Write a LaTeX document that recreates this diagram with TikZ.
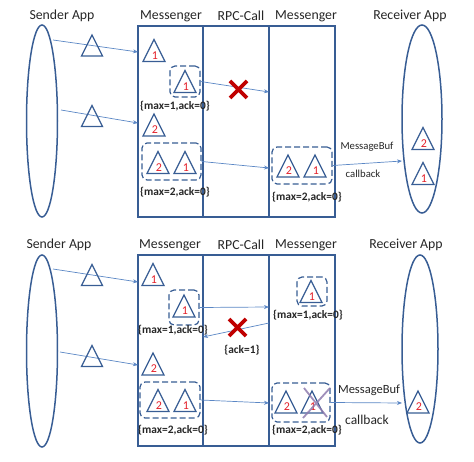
\documentclass[tikz,border=0pt]{standalone}
\usepackage{fontspec}
\setmainfont{Carlito}
\usetikzlibrary{shapes.geometric,arrows.meta}
\definecolor{edge}{HTML}{385D94}
\definecolor{arrc}{HTML}{5B87C5}
\definecolor{numred}{HTML}{E3202A}
\definecolor{xred}{HTML}{C00000}
\definecolor{purp}{HTML}{8E7BAE}
\definecolor{txt}{HTML}{262626}
\tikzset{
  hdr/.style={font=\fontsize{13.8}{15}\selectfont, text=txt, inner sep=0pt},
  lbl/.style={font=\bfseries\fontsize{11.4}{13}\selectfont, text=txt, inner sep=0pt},
  cb/.style={font=\fontsize{#1}{12}\selectfont, text=txt, inner sep=0pt},
  app/.style={draw=edge, line width=1.5pt, ellipse, inner sep=0pt, outer sep=0pt},
  col/.style={draw=edge, line width=1.4pt, rectangle, inner sep=0pt, outer sep=0pt, minimum width=#1, minimum height=191pt},
  dbox/.style={draw=edge, line width=1.2pt, rectangle, rounded corners=5pt, dash pattern=on 6pt off 3pt, inner sep=0pt, minimum width=#1},
  triline/.style={draw=edge, line width=1.3pt, line join=miter},
  num/.style={text=numred, font=\fontsize{12}{13}\selectfont, inner sep=0pt},
  arr/.style={draw=arrc, line width=0.7pt, -{Stealth[length=5pt,width=4pt]}},
  redx/.style={draw=xred, line width=3.8pt},
  purx/.style={draw=purp, line width=1.8pt, opacity=0.85},
  tri/.pic={\draw[triline] (-11,11) -- (11,11) -- (0,-11) -- cycle;
            \node[num] (-n) at (1,5) {#1};},
  etri/.pic={\draw[triline] (-10.5,10.5) -- (10.5,10.5) -- (0,-10.5) -- cycle;}
}
\begin{document}
\begin{tikzpicture}[x=1pt,y=-1pt]
\useasboundingbox (0,0) rectangle (474,462);
% ================= TOP PANEL =================
\node[hdr] (hs1) at (62,16) {Sender App};
\node[hdr] (hm1) at (171,16) {Messenger};
\node[hdr] (hr1) at (241,16) {RPC-Call};
\node[hdr] (hm2) at (306,16) {Messenger};
\node[hdr] (ha1) at (410,16) {Receiver App};

\node[app, minimum width=31pt, minimum height=192pt] (snd1) at (42,121) {};
\node[app, minimum width=40pt, minimum height=188pt] (rcv1) at (422,119) {};
\node[col=65pt] (ma1) at (170.5,121.5) {};
\node[col=66pt] (rpc1) at (236,121.5) {};
\node[col=66pt] (mb1) at (302,121.5) {};

% sender arrows
\coordinate (a1s) at (53,40);  \coordinate (a1e) at (138,52);
\coordinate (a2s) at (61,110); \coordinate (a2e) at (138,123);
\draw[arr] (a1s) -- (a1e);
\draw[arr] (a2s) -- (a2e);
\pic at (92,45.5) {etri};
\pic at (92,116) {etri};

% messenger left content
\pic (t1) at (154,50.5) {tri=1};
\node[dbox=30pt, minimum height=31pt] (da1) at (185,81.5) {};
\pic (t2) at (185,81.5) {tri=1};
\node[lbl] (la1) at (175,106) {\{max=1,ack=0\}};
\pic (t3) at (154,125) {tri=2};
\node[dbox=59pt, minimum height=37pt] (db1) at (171.5,161.5) {};
\pic (t4) at (158,162.5) {tri=2};
\pic (t5) at (185,162.5) {tri=1};
\node[lbl] (lb1) at (175,192) {\{max=2,ack=0\}};

% right messenger content
\node[dbox=60pt, minimum height=37pt] (dc1) at (302,165.5) {};
\pic (t6) at (288,166) {tri=2};
\pic (t7) at (315,166) {tri=1};
\node[lbl] (lc1) at (307,197) {\{max=2,ack=0\}};

% arrows across
\coordinate (x1e) at (269,92);
\draw[arr] (da1.east) -- (x1e);
\draw[redx] (230,81) -- (247,98) (247,81) -- (230,98);
\coordinate (y1e) at (269,168);
\draw[arr] (db1.east) -- (y1e);
\coordinate (z1e) at (402,161);
\draw[arr] (dc1.east) -- (z1e);
\node[cb=10.7] (mbuf1) at (367,147) {MessageBuf};
\node[cb=10.7] (call1) at (363,174) {callback};

% receiver
\pic (t8) at (423,138.5) {tri=2};
\pic (t9) at (423,173.5) {tri=1};

% ================= BOTTOM PANEL =================
\node[hdr] (hs2) at (59,245) {Sender App};
\node[hdr] (hm3) at (170,245) {Messenger};
\node[hdr] (hr2) at (241,245) {RPC-Call};
\node[hdr] (hm4) at (306,245) {Messenger};
\node[hdr] (ha2) at (406,245) {Receiver App};

\node[app, minimum width=31pt, minimum height=192pt] (snd2) at (42,351) {};
\node[app, minimum width=36pt, minimum height=188pt] (rcv2) at (420,349) {};
\node[col=65pt] (ma2) at (170.5,350.5) {};
\node[col=66pt] (rpc2) at (236,350.5) {};
\node[col=66pt] (mb2) at (302,350.5) {};

\coordinate (b1s) at (53,269);  \coordinate (b1e) at (138,282);
\coordinate (b2s) at (60,352); \coordinate (b2e) at (138,365);
\draw[arr] (b1s) -- (b1e);
\draw[arr] (b2s) -- (b2e);
\pic at (92,275) {etri};
\pic at (92,356) {etri};

\pic (u1) at (153,274.5) {tri=1};
\node[dbox=30pt, minimum height=35pt] (da2) at (184,307.5) {};
\pic (u2) at (184,306) {tri=1};
\node[lbl] (la2) at (173,330) {\{max=1,ack=0\}};
\pic (u3) at (153,364) {tri=2};
\node[dbox=60pt, minimum height=36pt] (db2) at (170,400) {};
\pic (u4) at (158,400.5) {tri=2};
\pic (u5) at (185,400.5) {tri=1};
\node[lbl] (lb2) at (173,430) {\{max=2,ack=0\}};

\node[dbox=30pt, minimum height=29pt] (dd2) at (312,291.5) {};
\pic (u6) at (311,291.5) {tri=1};
\node[lbl] (ld2) at (308,315) {\{max=1,ack=0\}};

\node[dbox=58pt, minimum height=39pt] (dc2) at (301,402.5) {};
\pic (u7) at (286,402) {tri=2};
\pic (u8) at (312,402) {tri=1};
\draw[purx] (304,388) -- (327,417) (330,388) -- (303,418);
\node[lbl] (lc2) at (307,430) {\{max=2,ack=0\}};

\coordinate (p1e) at (269,307);
\draw[arr] (da2.east) -- (p1e);
\coordinate (q1s) at (269,323); \coordinate (q1e) at (203,337);
\draw[arr] (q1s) -- (q1e);
\draw[redx] (229,319) -- (246,336) (246,319) -- (229,336);
\node[lbl] (ack) at (242,350) {\{ack=1\}};
\coordinate (r1e) at (269,403);
\draw[arr] (db2.east) -- (r1e);
\coordinate (s1e) at (402,403);
\draw[arr] (dc2.east) -- (s1e);
\node[cb=12.5] (mbuf2) at (369,390) {MessageBuf};
\node[cb=13.5] (call2) at (367,420) {callback};

\pic (u9) at (418,402) {tri=2};
\end{tikzpicture}
\end{document}
